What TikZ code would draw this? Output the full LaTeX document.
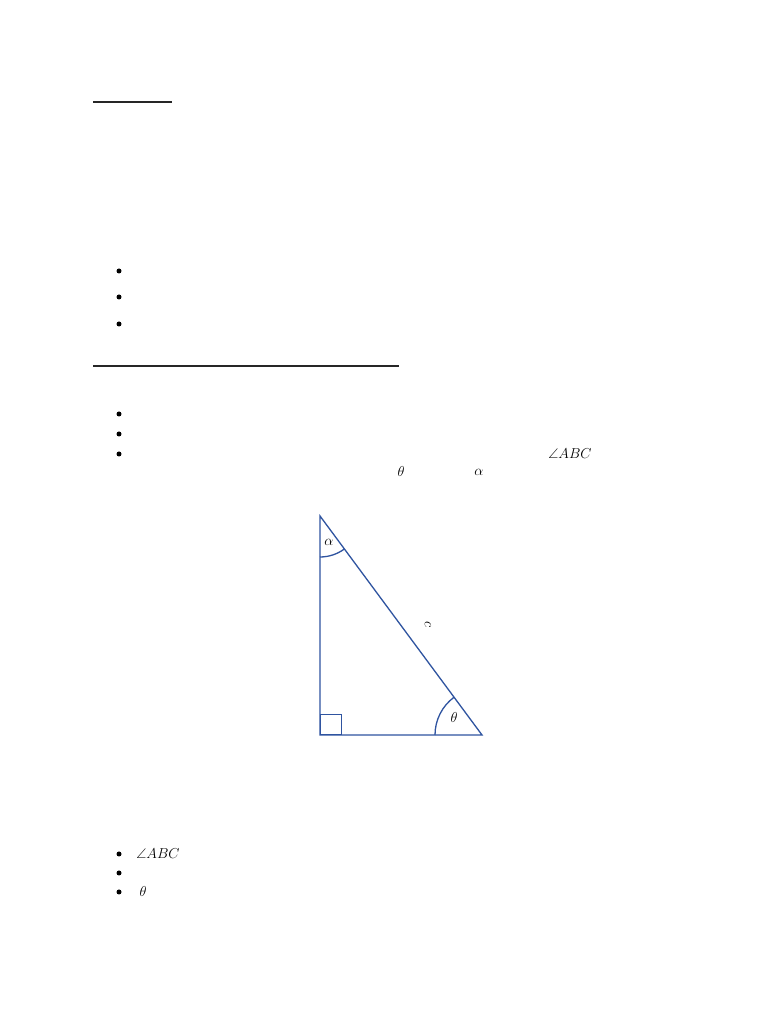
\documentclass[tikz,border=0pt]{standalone}
\usepackage{amssymb}
\definecolor{triblue}{RGB}{47,84,160}
\tikzset{
  rule/.style={line width=1.6pt, black!85},
  bul/.style={circle, fill=black, inner sep=0pt, minimum size=5pt},
  tri/.style={draw=triblue, line width=1.3pt, line join=miter},
  lbl/.style={inner sep=0pt, font=\fontsize{14}{16}\selectfont},
}
\begin{document}
\begin{tikzpicture}[x=1pt,y=1pt]
\useasboundingbox[fill=white] (0,0) rectangle (768,1024);
% header rules
\coordinate (r1a) at (93,922); \coordinate (r1b) at (172,922);
\draw[rule] (r1a) -- (r1b);
\coordinate (r2a) at (93,658); \coordinate (r2b) at (399,658);
\draw[rule] (r2a) -- (r2b);
% bullets
\foreach \n/\y in {b1/753,b2/727,b3/700,b4/610,b5/590,b6/570,b7/170,b8/151,b9/132}
  \node[bul] (\n) at (119,\y) {};
% inline math
\node[lbl] (abc1) at (570,570) {$\angle ABC$};
\node[lbl] (th1) at (401,552) {$\theta$};
\node[lbl] (al1) at (479,552) {$\alpha$};
\node[lbl] (abc2) at (158,170) {$\angle ABC$};
\node[lbl] (th2) at (143,132) {$\theta$};
% triangle
\coordinate (A) at (320,508);
\coordinate (B) at (320,289);
\coordinate (C) at (482,289);
\draw[tri] (A) -- (B) -- (C) -- cycle;
\draw[tri, line width=1pt] (B) rectangle ++(21,20);
\draw[tri] (320,467) arc[start angle=270, end angle=306.5, radius=41];
\draw[tri] (435,289) arc[start angle=180, end angle=126.5, radius=47];
\node[lbl] (alpha) at (329,482) {$\alpha$};
\node[lbl] (theta) at (454,306) {$\theta$};
\node[lbl, rotate=-90] (c) at (428,399) {$c$};
\end{tikzpicture}
\end{document}
